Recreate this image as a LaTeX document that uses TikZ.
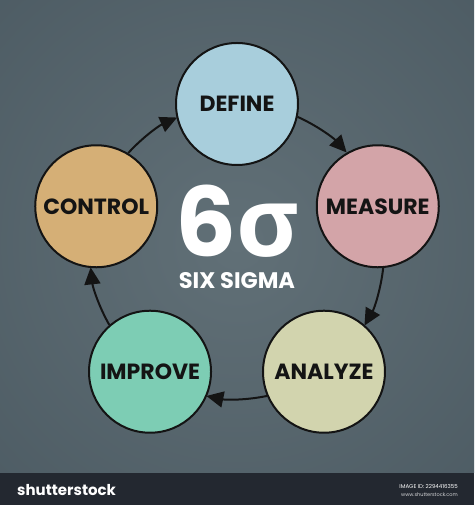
\documentclass[tikz,border=0pt]{standalone}
\usepackage{fontspec}
\setmainfont{Poppins}
\newfontfamily\greekfont{Open Sans}
\usetikzlibrary{arrows.meta}
\definecolor{bginner}{HTML}{617077}
\definecolor{bgouter}{HTML}{3A4851}
\definecolor{barcol}{HTML}{232830}
\definecolor{cdefine}{HTML}{A8CEDC}
\definecolor{cmeasure}{HTML}{D3A4A8}
\definecolor{canalyze}{HTML}{D2D4AE}
\definecolor{cimprove}{HTML}{7DCDB4}
\definecolor{ccontrol}{HTML}{D5AF76}
\definecolor{ink}{HTML}{141414}
\begin{document}
\begin{tikzpicture}[x=1pt,y=1pt,
  stage/.style={circle, draw=ink, line width=2pt, minimum size=122pt, inner sep=0pt,
    font=\bfseries\fontsize{22}{22}\selectfont, text=ink},
  arr/.style={draw=ink, line width=2pt, -{Triangle[length=17pt,width=16pt]}},
  bartext/.style={text=white, inner sep=0pt}]
\useasboundingbox (0,0) rectangle (474,505);
\begin{scope}
  \clip (0,32) rectangle (474,505);
  \shade[inner color=bginner, outer color=bgouter] (237,262) circle (700);
\end{scope}
\fill[barcol] (0,0) rectangle (474,32);
\coordinate (O) at (237,253);
% stages
\node[stage, fill=cdefine]  (define)  at ([shift={(90:148)}]O)  {DEFINE};
\node[stage, fill=cmeasure] (measure) at ([shift={(18:148)}]O)  {MEASURE};
\node[stage, fill=canalyze] (analyze) at ([shift={(-54:148)}]O) {ANALYZE};
\node[stage, fill=cimprove] (improve) at ([shift={(-126:148)}]O) {IMPROVE};
\node[stage, fill=ccontrol] (control) at ([shift={(162:148)}]O) {CONTROL};
% arrows along the big circle
\draw[arr] (define.-12.1)  arc[start angle=65.8,   end angle=42.2,   radius=148];
\draw[arr] (measure.275.9) arc[start angle=-6.2,   end angle=-29.8,  radius=148];
\draw[arr] (analyze.203.9) arc[start angle=-78.2,  end angle=-101.8, radius=148];
\draw[arr] (improve.131.9) arc[start angle=-150.2, end angle=-173.8, radius=148];
\draw[arr] (control.59.9)  arc[start angle=137.8,  end angle=114.2,  radius=148];
% centre title (one text block, two lines)
\node[text=white, inner sep=0pt, anchor=base, align=center,
      font=\bfseries\fontsize{22.5}{32}\selectfont] (title) at (237,216)
  {{\fontsize{96}{32}\selectfont 6{\greekfont\bfseries σ}}\\SIX SIGMA};
% bottom bar
\node[bartext, anchor=west, font=\bfseries\fontsize{15}{15}\selectfont] (logo) at (17,15) {shutterstock};
\node[bartext, anchor=east, font=\fontsize{5.5}{5.5}\selectfont] (imgid) at (458,19) {IMAGE ID: 2294416355};
\node[bartext, anchor=east, font=\fontsize{5}{5}\selectfont, text=white!80!barcol] (www) at (458,10) {www.shutterstock.com};
\end{tikzpicture}
\end{document}
